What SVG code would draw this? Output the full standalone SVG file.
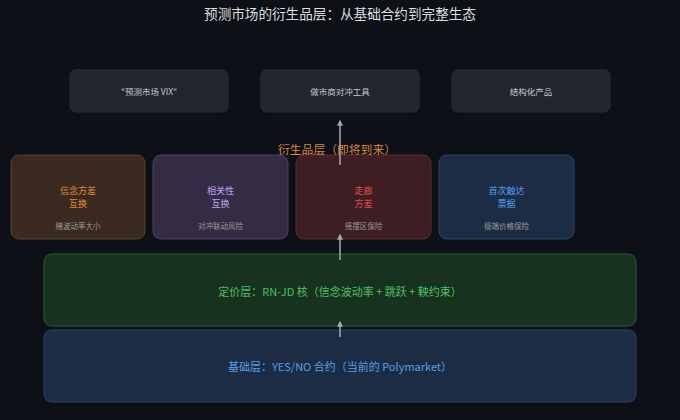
<svg xmlns="http://www.w3.org/2000/svg" width="680" height="420" viewBox="0 0 680 420">
<defs>
<style>
text{font-family:"Noto Sans CJK SC","Liberation Sans",sans-serif;text-anchor:middle;dominant-baseline:central}
.top rect{fill:#22252d;stroke:#2c2f38;stroke-width:1}
.top text{fill:#c8c8cc;font-size:8.5px}
.card text.sub{fill:#9a9a9a;font-size:7.5px}
.card text.t{font-size:9px}
.conn line{stroke:#a8a8ac;stroke-width:1.5;marker-end:url(#ah)}
</style>
<marker id="ah" viewBox="0 0 10 10" refX="8" refY="5" markerWidth="4" markerHeight="4" orient="auto">
<path d="M0,0 L10,5 L0,10 z" fill="#a8a8ac"/>
</marker>
</defs>
<rect x="0" y="0" width="680" height="420" fill="#0d1017"/>
<text x="340" y="13" font-size="13.6" fill="#dedede">预测市场的衍生品层：从基础合约到完整生态</text>

<g id="top-vix" class="top"><rect x="70" y="70" width="158" height="42" rx="6"/><text x="149" y="91">"预测市场 VIX"</text></g>
<g id="top-mm" class="top"><rect x="261" y="70" width="158" height="42" rx="6"/><text x="340" y="91">做市商对冲工具</text></g>
<g id="top-struct" class="top"><rect x="452" y="70" width="158" height="42" rx="6"/><text x="531" y="91">结构化产品</text></g>

<g id="card-belief" class="card"><rect x="11" y="155" width="134" height="84" rx="8" fill="#3a2a20" stroke="#5a3e2a"/><text class="t" x="78" y="190.5" fill="#e08a3c">信念方差</text><text class="t" x="78" y="203.5" fill="#e08a3c">互换</text><text class="sub" x="78" y="225">赌波动率大小</text></g>
<g id="card-corr" class="card"><rect x="153" y="155" width="135" height="84" rx="8" fill="#342c44" stroke="#4c4266"/><text class="t" x="220.5" y="190.5" fill="#c0a0f0">相关性</text><text class="t" x="220.5" y="203.5" fill="#c0a0f0">互换</text><text class="sub" x="220.5" y="225">对冲联动风险</text></g>
<g id="card-corridor" class="card"><rect x="296" y="155" width="135" height="84" rx="8" fill="#3e1e22" stroke="#5c2c30"/><text class="t" x="363.5" y="190.5" fill="#e04c4c">走廊</text><text class="t" x="363.5" y="203.5" fill="#e04c4c">方差</text><text class="sub" x="363.5" y="225">摇摆区保险</text></g>
<g id="card-touch" class="card"><rect x="439" y="155" width="135" height="84" rx="8" fill="#1c2c44" stroke="#2c4468"/><text class="t" x="506.5" y="190.5" fill="#5aa0f0">首次触达</text><text class="t" x="506.5" y="203.5" fill="#5aa0f0">票据</text><text class="sub" x="506.5" y="225">极端价格保险</text></g>

<g id="pricing"><rect x="44" y="254" width="592" height="72" rx="8" fill="#183220" stroke="#2a5a32"/><text x="340" y="291" font-size="11" fill="#4cc060">定价层：RN-JD 核（信念波动率 + 跳跃 + 鞅约束）</text></g>
<g id="base"><rect x="44" y="330" width="592" height="72" rx="8" fill="#1c2c44" stroke="#2c4468"/><text x="340" y="366" font-size="11" fill="#5a9ee0">基础层：YES/NO 合约（当前的 Polymarket）</text></g>

<g id="connectors" class="conn">
<line x1="340" y1="165" x2="340" y2="121"/>
<line x1="340" y1="260" x2="340" y2="235"/>
<line x1="340" y1="337" x2="340" y2="322"/>
</g>
<g id="layer-label"><text x="337" y="148" font-size="11.8" fill="#d98a3a">衍生品层（即将到来）</text></g>
</svg>
